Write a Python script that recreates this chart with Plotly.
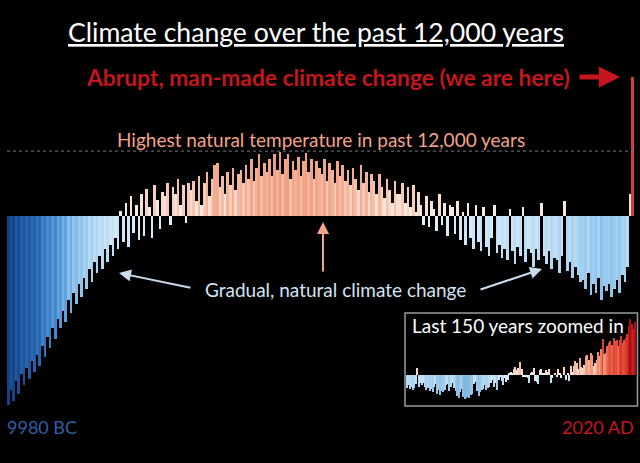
import plotly.graph_objects as go

# ---------------- data ----------------
start_year = -9980
step = 50
# temperature anomaly (deg C, arbitrary baseline) every 50 years, 9980 BC -> ~2020 AD
main_values = [
    -1.72, -1.58, -1.68, -1.50, -1.62, -1.44, -1.54, -1.38, -1.48, -1.32,
    -1.42, -1.26, -1.36, -1.18, -1.28, -1.10, -1.20, -1.02, -1.12, -0.94,
    -1.02, -0.86, -0.96, -0.76, -0.88, -0.70, -0.80, -0.62, -0.74, -0.56,
    -0.66, -0.48, -0.60, -0.42, -0.52, -0.36, -0.48, -0.30, -0.42, -0.26,
    -0.36, -0.20, -0.30, 0.05, -0.24, 0.12, -0.28, 0.18, -0.15, 0.10,
    -0.22, 0.20, -0.18, 0.25, 0.08, -0.20, 0.28, 0.15, -0.12, 0.22,
    0.18, 0.30, -0.08, 0.26, 0.20, 0.34, 0.10, 0.28, -0.06, 0.30,
    0.24, 0.32, 0.14, 0.36, 0.10, 0.30, 0.40, 0.18, 0.34, 0.46,
    0.48, 0.26, 0.36, 0.20, 0.40, 0.28, 0.44, 0.24, 0.38, 0.42,
    0.30, 0.46, 0.34, 0.52, 0.32, 0.44, 0.56, 0.36, 0.48, 0.40,
    0.52, 0.36, 0.56, 0.42, 0.58, 0.38, 0.52, 0.56, 0.34, 0.50,
    0.42, 0.54, 0.36, 0.50, 0.57, 0.40, 0.52, 0.34, 0.50, 0.44,
    0.38, 0.52, 0.32, 0.48, 0.42, 0.30, 0.50, 0.36, 0.46, 0.32,
    0.42, 0.28, 0.44, 0.34, 0.24, 0.46, 0.30, 0.40, 0.22, 0.38,
    0.32, 0.20, 0.38, 0.26, 0.16, 0.34, 0.24, 0.12, 0.32, 0.20,
    0.20, 0.30, 0.12, 0.26, 0.08, 0.28, 0.04, 0.22, 0.10, -0.08,
    0.18, -0.10, 0.14, 0.06, -0.14, 0.20, -0.08, 0.12, -0.18, 0.10,
    0.08, -0.16, 0.14, -0.22, 0.04, -0.26, 0.12, -0.20, -0.30, 0.10,
    -0.24, -0.32, 0.08, -0.28, -0.36, -0.20, 0.10, -0.34, -0.26, -0.38,
    -0.30, -0.40, 0.06, -0.32, -0.44, -0.28, -0.36, 0.08, -0.42, -0.30,
    -0.34, -0.46, -0.30, -0.40, 0.12, -0.36, -0.44, -0.32, -0.48, -0.38,
    -0.40, -0.52, -0.36, 0.14, -0.50, -0.42, -0.56, -0.46, -0.54, -0.60,
    -0.58, -0.66, -0.52, -0.72, -0.62, -0.70, -0.56, -0.76, -0.64, -0.68,
    -0.62, -0.74, -0.66, -0.58, -0.70, -0.54, -0.60, -0.46, 0.20, 1.26,
]
main_years = [start_year + step * i for i in range(len(main_values))]
highest_natural = 0.59

# last 150 years (1870-2019), annual anomaly
inset_start = 1870
inset_values = [
    -0.22, -0.18, -0.24, -0.20, -0.26, -0.22, -0.16, 0.12, -0.20, -0.14,
    -0.18, -0.14, -0.20, -0.26, -0.22, -0.28, -0.24, -0.30, -0.20, -0.16,
    -0.32, -0.26, -0.34, -0.28, -0.30, -0.26, -0.18, -0.16, -0.28, -0.20,
    -0.14, -0.22, -0.28, -0.36, -0.40, -0.30, -0.24, -0.38, -0.42, -0.40,
    -0.38, -0.40, -0.34, -0.32, -0.16, -0.12, -0.28, -0.36, -0.30, -0.26,
    -0.24, -0.18, -0.26, -0.22, -0.20, -0.14, -0.08, -0.20, -0.14, -0.26,
    -0.08, -0.04, -0.10, -0.18, -0.06, -0.12, -0.08, 0.04, 0.06, 0.04,
    0.10, 0.14, 0.08, 0.12, 0.22, 0.10, -0.04, -0.02, -0.04, -0.06,
    -0.14, 0.02, 0.06, 0.12, -0.10, -0.12, -0.16, 0.08, 0.10, 0.04,
    0.02, 0.08, 0.06, 0.10, -0.14, -0.06, 0.00, 0.02, -0.04, 0.10,
    0.04, -0.06, 0.00, 0.14, -0.08, 0.02, -0.10, 0.16, 0.06, 0.16,
    0.24, 0.20, 0.10, 0.30, 0.14, 0.12, 0.18, 0.32, 0.34, 0.26,
    0.38, 0.34, 0.16, 0.20, 0.26, 0.40, 0.32, 0.44, 0.62, 0.36,
    0.38, 0.50, 0.56, 0.58, 0.52, 0.64, 0.58, 0.60, 0.50, 0.60,
    0.68, 0.56, 0.60, 0.64, 0.70, 0.84, 0.96, 0.88, 0.80, 0.92,
]
inset_years = [inset_start + i for i in range(len(inset_values))]

# ---------------- styling ----------------
W, H = 640, 463


def px(x):
    return x / W


def py(y):
    return (H - y) / H


def make_scale(stops, vmin, vmax):
    return [[(v - vmin) / (vmax - vmin), c] for v, c in stops]


main_min, main_max = -1.75, 1.30
main_scale = make_scale([
    (-1.75, "#123f80"), (-1.40, "#2562ae"), (-1.05, "#4d92d6"),
    (-0.75, "#8cc2ec"), (-0.45, "#b9dbf3"), (-0.15, "#dcecf8"), (0.0, "#f4f4f4"),
    (0.20, "#f8e0d2"), (0.40, "#f4b49a"), (0.60, "#f09a7c"),
    (0.90, "#e25a48"), (1.30, "#d43a3a"),
], main_min, main_max)

inset_min, inset_max = -0.5, 0.95
inset_scale = make_scale([
    (-0.5, "#6aa8d8"), (-0.25, "#a8d2ee"), (-0.05, "#e2f0fa"), (0.0, "#f7f7f7"),
    (0.15, "#f8d2c0"), (0.4, "#f08a6a"), (0.65, "#e03a2c"), (0.95, "#a80f15"),
], inset_min, inset_max)

k_main = 110.0  # px per degree
base_main = 216
k_in = 58.0
base_in = 375
FONT = "Lato"

fig = go.Figure()
fig.add_trace(go.Bar(
    x=main_years, y=main_values, width=step,
    marker=dict(color=main_values, colorscale=main_scale, cmin=main_min,
                cmax=main_max, line=dict(width=0)),
    xaxis="x", yaxis="y", hoverinfo="skip",
))
fig.add_trace(go.Bar(
    x=inset_years, y=inset_values, width=1,
    marker=dict(color=inset_values, colorscale=inset_scale, cmin=inset_min,
                cmax=inset_max, line=dict(width=0)),
    xaxis="x2", yaxis="y2", hoverinfo="skip",
))

fig.update_layout(
    width=W, height=H, margin=dict(l=0, r=0, t=0, b=0),
    paper_bgcolor="black", plot_bgcolor="rgba(0,0,0,0)",
    showlegend=False, bargap=0,
    font=dict(family=FONT, color="white"),
    xaxis=dict(domain=[px(7), px(634)], range=[start_year - step / 2,
               main_years[-1] + step / 2], visible=False, fixedrange=True),
    yaxis=dict(domain=[0, 1], range=[(base_main - H) / k_main, base_main / k_main],
               visible=False),
    xaxis2=dict(domain=[px(406), px(636)], range=[inset_start - 0.5,
                inset_years[-1] + 0.5], visible=False, anchor="y2"),
    yaxis2=dict(domain=[py(405), py(314)],
                range=[(base_in - 405) / k_in, (base_in - 314) / k_in],
                visible=False, anchor="x2"),
)

shapes = [
    dict(type="line", xref="paper", yref="y", x0=px(7), x1=px(634),
         y0=highest_natural, y1=highest_natural,
         line=dict(color="#7a7a7a", width=1, dash="dot")),
    dict(type="rect", xref="paper", yref="paper", x0=px(405), x1=px(637.5),
         y0=py(406), y1=py(313), line=dict(color="#9a9a9a", width=1.5)),
]
fig.update_layout(shapes=shapes)

anns = [
    dict(text="<u>Climate change over the past 12,000 years</u>", x=px(316), y=py(32),
         font=dict(size=26.6, color="white", family=FONT)),
    dict(text="<b>Abrupt, man-made climate change (we are here)</b>", x=px(572), y=py(77),
         xanchor="right", font=dict(size=22.8, color="#c4161c", family=FONT)),
    dict(text="Highest natural temperature in past 12,000 years", x=px(321), y=py(139),
         font=dict(size=19, color="#f4a388", family=FONT)),
    dict(text="Gradual, natural climate change", x=px(335.5), y=py(289),
         font=dict(size=19, color="#d2e4f4", family=FONT)),
    dict(text="9980 BC", x=px(5), y=py(427), xanchor="left",
         font=dict(size=18, color="#2f5fa6", family=FONT)),
    dict(text="2020 AD", x=px(636), y=py(427), xanchor="right",
         font=dict(size=18, color="#c4161c", family=FONT)),
    dict(text="Last 150 years zoomed in", x=px(410), y=py(326), xanchor="left",
         font=dict(size=19, color="white", family=FONT)),
]
for a in anns:
    a.setdefault("xanchor", "center")
    a.update(xref="paper", yref="paper", yanchor="middle", showarrow=False)

# arrows given as (tip_x, tip_y, tail_x, tail_y) in pixels
arrows = [
    dict(tip=(620, 77), tail=(578, 77), color="#c4161c", width=5, size=0.85),
    dict(tip=(323, 222), tail=(323, 273), color="#f4a388", width=2, size=1.2),
    dict(tip=(119, 273), tail=(192, 288), color="#c8dcee", width=2, size=1.2),
    dict(tip=(542, 269), tail=(479, 290), color="#c8dcee", width=2, size=1.2),
]
for ar in arrows:
    tx, ty = ar["tip"]
    sx, sy = ar["tail"]
    anns.append(dict(text="", x=px(tx), y=py(ty), ax=sx - tx, ay=sy - ty,
                     xref="paper", yref="paper", axref="pixel", ayref="pixel",
                     showarrow=True, arrowhead=2, arrowsize=ar["size"],
                     arrowwidth=ar["width"], arrowcolor=ar["color"]))
fig.update_layout(annotations=anns)

fig.write_html("out.html")
